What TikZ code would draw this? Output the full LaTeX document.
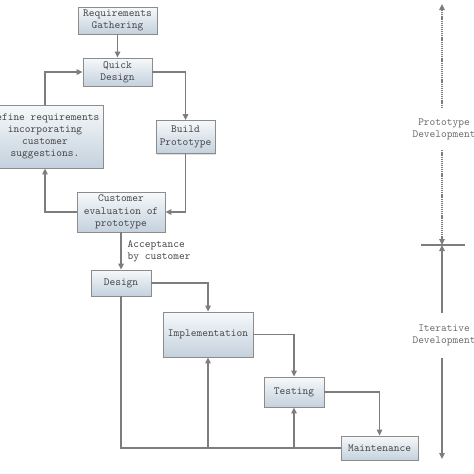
\documentclass[tikz,border=0pt]{standalone}
\usepackage{fontspec}
\usetikzlibrary{arrows.meta,shadows}
\definecolor{boxtop}{RGB}{246,249,251}
\definecolor{boxbot}{RGB}{196,209,221}
\definecolor{boxline}{RGB}{140,140,140}
\definecolor{wire}{RGB}{125,125,125}
\definecolor{ink}{RGB}{70,70,70}
\newcommand*{\boxfont}{\ttfamily\fontsize{10.9pt}{12.2pt}\selectfont}
\newcommand*{\stagebox}[6]{%
\node[stage, minimum width=#4, minimum height=#5] (#1) at (#2,#3) {#6};}

\begin{document}
\begin{tikzpicture}[x=1pt, y=-1pt,
  stage/.style={draw=boxline, line width=0.8pt, top color=boxtop, bottom color=boxbot,
    drop shadow={shadow xshift=1pt, shadow yshift=-1pt, opacity=0.25},
    align=center, inner sep=0pt, text=ink, font=\boxfont},
  wire/.style={draw=wire, line width=1.3pt, -{Triangle[length=6pt,width=5.5pt]}},
  axis/.style={draw=wire, line width=1.3pt},
  dots/.style={line width=1.3pt, dash pattern=on 1.2pt off 0.9pt},
  axislabel/.style={align=center, inner xsep=0pt, inner ysep=0pt, text=ink!80,
    font=\boxfont}]

\useasboundingbox (0,0) rectangle (474,474);

% prototype loop
\stagebox{req}{117.5}{20.5}{79pt}{27pt}{Requirements\\Gathering}
\stagebox{quick}{117.5}{72}{69pt}{28pt}{Quick\\Design}
\stagebox{refine}{45}{136.5}{116pt}{63pt}{Refine requirements\\incorporating\\customer\\suggestions.}
\stagebox{build}{185.5}{137}{59pt}{33pt}{Build\\Prototype}
\stagebox{evalu}{121}{212}{88pt}{40pt}{Customer\\evaluation of\\prototype}

% iterative part
\stagebox{design}{121}{283}{60pt}{26pt}{Design}
\stagebox{impl}{208}{334.5}{90pt}{45pt}{Implementation}
\stagebox{test}{294}{392}{60pt}{30pt}{Testing}
\stagebox{maint}{379.5}{448}{77pt}{24pt}{Maintenance}

\draw[wire] (req) -- (quick);
\draw[wire] (quick.east) -| (build.north);
\draw[wire] (build.south) |- (evalu.east);
\draw[wire] (evalu.west) -| (refine.south);
\draw[wire] (refine.north) |- (quick.west);
\draw[wire] (evalu) -- node[right, xshift=6pt, align=left, text=ink, inner sep=0pt,
  font=\boxfont] (accept) {Acceptance\\by customer} (design);

\draw[wire] (design.east) -| (impl.north);
\draw[wire] (impl.east) -| (test.north);
\draw[wire] (test.east) -| (maint.north);

\coordinate (back) at (design.south |- maint.west);
\draw[axis] (maint.west) -- (back) -- (design.south);
\draw[wire] (impl.south |- maint.west) -- (impl.south);
\draw[wire] (test.south |- maint.west) -- (test.south);

% phases on the right
\node[axislabel, minimum height=42pt] (protolab) at (444,129) {Prototype\\Development};
\node[axislabel, minimum height=45pt] (iterlab) at (444,335.5) {Iterative\\Development};
\coordinate (top) at (442,4);
\coordinate (split) at (442,245);
\coordinate (bottom) at (442,459);
\draw[axis] (421,245) -- (465,245);
\draw[wire, dots] (protolab.north -| top) -- (top);
\draw[wire, dots] (protolab.south -| top) -- (split);
\draw[wire] (iterlab.north -| top) -- (split);
\draw[wire] (iterlab.south -| top) -- (bottom);

\end{tikzpicture}
\end{document}
